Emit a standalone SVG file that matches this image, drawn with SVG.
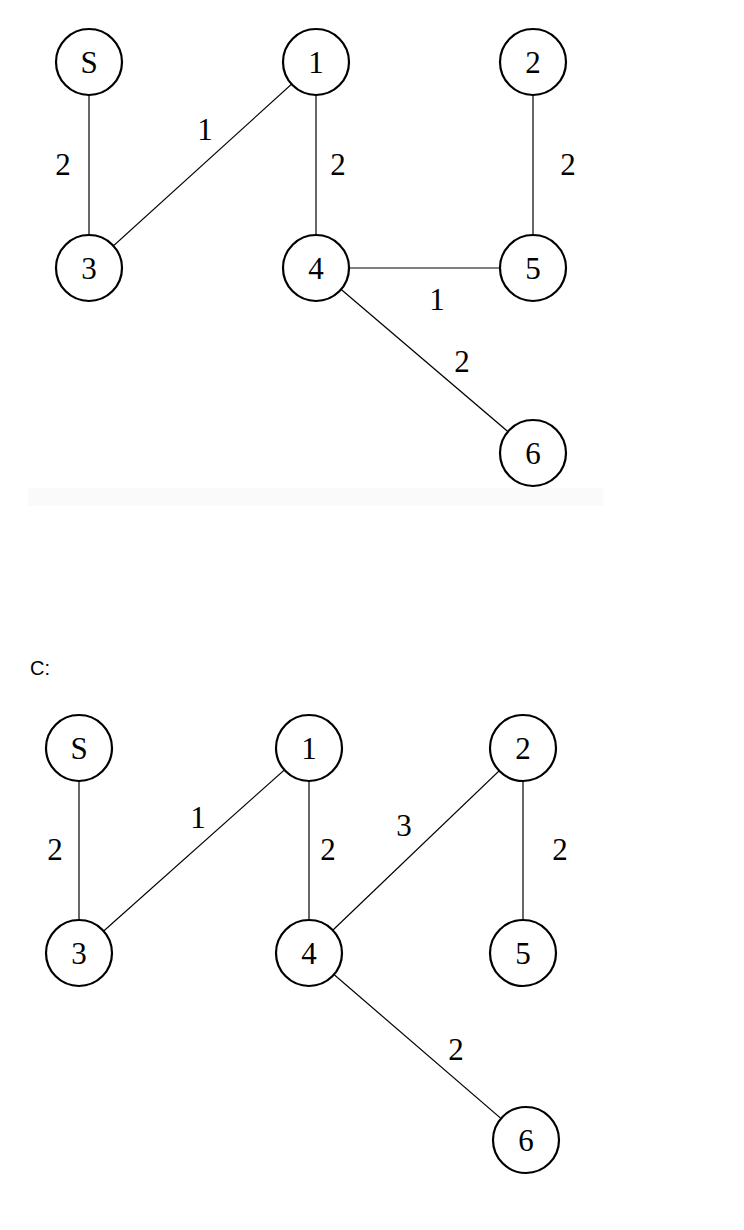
<svg xmlns="http://www.w3.org/2000/svg" width="744" height="1230" viewBox="0 0 744 1230">
<style>
.n circle{fill:#fff;stroke:#000;stroke-width:2.2}
text{font-family:"Liberation Serif",serif;font-size:31px;text-anchor:middle;fill:#000}
.e line{stroke:#000;stroke-width:1.2}
text.c{font-family:"Liberation Sans",sans-serif;font-size:20px;text-anchor:start}
</style>
<rect x="28" y="488" width="575" height="18" fill="#fafafa"/>
<g class="e">
<line x1="89" y1="62" x2="89" y2="268"/><line x1="89" y1="268" x2="316" y2="62"/><line x1="316" y1="62" x2="316" y2="268"/>
<line x1="533" y1="62" x2="533" y2="268"/><line x1="316" y1="268" x2="533" y2="268"/><line x1="316" y1="268" x2="533" y2="453"/>
<line x1="79" y1="748" x2="79" y2="953"/><line x1="79" y1="953" x2="309" y2="748"/><line x1="309" y1="748" x2="309" y2="953"/>
<line x1="309" y1="953" x2="523" y2="748"/><line x1="523" y1="748" x2="523" y2="953"/><line x1="309" y1="953" x2="526" y2="1140"/>
</g>
<g>
<text x="63" y="175">2</text><text x="205" y="140">1</text><text x="338" y="175">2</text><text x="568" y="175">2</text><text x="437" y="310">1</text><text x="462" y="372">2</text>
<text x="55" y="860">2</text><text x="198" y="828">1</text><text x="328" y="860">2</text><text x="404" y="836">3</text><text x="560" y="860">2</text><text x="456" y="1060">2</text>
</g>
<text class="c" x="30" y="675">C:</text>
<g class="n" id="tS"><circle cx="89" cy="62" r="33"/><text x="89" y="73">S</text></g>
<g class="n" id="t1"><circle cx="316" cy="62" r="33"/><text x="316" y="73">1</text></g>
<g class="n" id="t2"><circle cx="533" cy="62" r="33"/><text x="533" y="73">2</text></g>
<g class="n" id="t3"><circle cx="89" cy="268" r="33"/><text x="89" y="279">3</text></g>
<g class="n" id="t4"><circle cx="316" cy="268" r="33"/><text x="316" y="279">4</text></g>
<g class="n" id="t5"><circle cx="533" cy="268" r="33"/><text x="533" y="279">5</text></g>
<g class="n" id="t6"><circle cx="533" cy="453" r="33"/><text x="533" y="464">6</text></g>
<g class="n" id="bS"><circle cx="79" cy="748" r="33"/><text x="79" y="759">S</text></g>
<g class="n" id="b1"><circle cx="309" cy="748" r="33"/><text x="309" y="759">1</text></g>
<g class="n" id="b2"><circle cx="523" cy="748" r="33"/><text x="523" y="759">2</text></g>
<g class="n" id="b3"><circle cx="79" cy="953" r="33"/><text x="79" y="964">3</text></g>
<g class="n" id="b4"><circle cx="309" cy="953" r="33"/><text x="309" y="964">4</text></g>
<g class="n" id="b5"><circle cx="523" cy="953" r="33"/><text x="523" y="964">5</text></g>
<g class="n" id="b6"><circle cx="526" cy="1140" r="33"/><text x="526" y="1151">6</text></g>
</svg>
